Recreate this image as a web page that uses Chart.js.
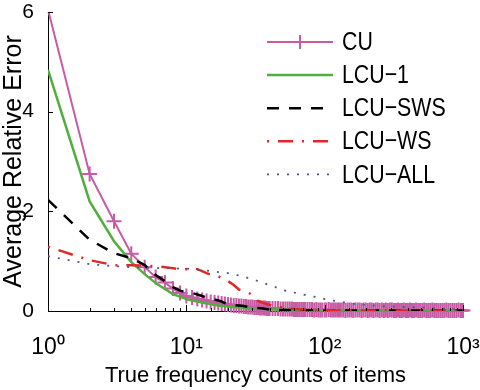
<!DOCTYPE html>
<html>
<head>
<meta charset="utf-8">
<script src="https://cdn.jsdelivr.net/npm/chart.js@4/dist/chart.umd.min.js"></script>
<style>
  body { margin: 0; background: #fff; }
</style>
</head>
<body>
<canvas id="err" width="480" height="390"></canvas>
<script>
// counts on the x axis (CU is plotted at every count, so its list is denser)
const cuCounts = [1,2,3,4,5,6,7,8,9,10, 11,12,13,14,15,16,17,18,19,20,
    21,22,23,24,25,26,27,28,29,30, 31,32,33,34,35,36,37,38,39,40,
    42,44,46,48,50,52,54,56,58,60,62,64,66,68,70,
    72,75,78,81,84,87,90,93,96,
    100,103,107,111,115,119,123,127,131,
    136,141,146,151,156,161,167,173,179,185,191,
    198,205,212,219,226,234,242,250,
    259,268,277,286,296,306,317,328,339,350,
    362,374,387,400,414,428,443,458,474,490,
    507,524,542,560,579,599,619,640,662,685,
    708,732,757,783,810,838,866,896,926,958,980,1000];
const cuError = [6.05,2.75,1.8,1.15,0.88,0.68,0.57,0.45,0.36,0.3,
    0.27,0.24,0.22,0.2,0.18,0.17,0.16,0.15,0.14,0.13,
    0.12,0.11,0.11,0.1,0.1,0.09,0.09,0.08,0.08,0.08,
    0.07,0.07,0.07,0.06,0.06,0.06,0.06,0.05,0.05,0.05,
    0.05,0.05,0.05,0.04,0.04,0.04,0.04,0.04,0.04,0.03,0.03,0.03,0.03,0.03,0.03,
    0.03,0.03,0.03,0.03,0.02,0.03,0.02,0.02,0.02,
    0.02,0.02,0.03,0.02,0.02,0.02,0.02,0.02,0.02,
    0.02,0.01,0.02,0.02,0.02,0.01,0.02,0.02,0.02,0.01,0.02,
    0.02,0.01,0.02,0.02,0.01,0.02,0.02,0.01,
    0.02,0.01,0.02,0.01,0.02,0.02,0.01,0.01,0.02,0.01,
    0.01,0.02,0.01,0.01,0.02,0.01,0.01,0.02,0.01,0.01,
    0.01,0.02,0.01,0.01,0.01,0.02,0.01,0.01,0.01,0.01,
    0.01,0.01,0.02,0.01,0.01,0.01,0.01,0.01,0.02,0.01,0.01,0.01];

const counts = [1,2,3,4,5,6,7,8,9,10, 11,12,13,14,15,16,17,18,19,20,
    22,24,26,28,30,33,36,40,45,50, 55,60,70,80,90,100,120,140,170,200,
    250,300,400,500,600,700,800,900,1000];
const lcu1Error = [4.84,2.2,1.4,0.98,0.74,0.56,0.44,0.34,0.29,0.24,
    0.21,0.19,0.17,0.15,0.14,0.12,0.11,0.1,0.1,0.09,
    0.08,0.07,0.07,0.06,0.05,0.05,0.04,0.04,0.03,0.03,
    0.02,0.02,0.02,0.01,0.01,0.01,0.01,0.01,0.01,0.01,
    0.01,0.01,0.01,0.01,0.01,0.01,0.01,0.01,0.01];
const swsError = [2.23,1.43,1.16,1.06,0.92,0.72,0.6,0.48,0.41,0.37,
    0.36,0.33,0.3,0.27,0.25,0.23,0.21,0.19,0.16,0.13,
    0.12,0.11,0.1,0.08,0.07,0.06,0.05,0.03,0.02,0.02,
    0.02,0.02,0.02,0.01,0.01,0.01,0.01,0.01,0.01,0.01,
    0.01,0.01,0.01,0.01,0.01,0.01,0.01,0.01,0.01];
const wsError = [1.29,1.02,0.92,0.92,0.91,0.9,0.88,0.86,0.83,0.84,
    0.86,0.84,0.8,0.76,0.73,0.72,0.7,0.66,0.63,0.6,
    0.52,0.43,0.4,0.37,0.32,0.2,0.16,0.12,0.09,0.07,
    0.05,0.04,0.03,0.02,0.02,0.02,0.01,0.01,0.01,0.01,
    0.01,0.01,0.01,0.01,0.01,0.01,0.01,0.01,0.01];
const allError = [1.1,0.94,0.9,0.88,0.87,0.86,0.86,0.86,0.85,0.85,
    0.84,0.83,0.82,0.81,0.8,0.79,0.78,0.77,0.76,0.76,
    0.74,0.71,0.69,0.66,0.64,0.6,0.56,0.52,0.47,0.42,
    0.39,0.37,0.33,0.3,0.27,0.24,0.2,0.17,0.14,0.12,
    0.1,0.09,0.08,0.07,0.06,0.05,0.04,0.03,0.02];

const seriesNames = ['CU', 'LCU\u22121', 'LCU\u2212SWS', 'LCU\u2212WS', 'LCU\u2212ALL'];
const yTicks = [0, 2, 4, 6];
const superDigits = {'0': '\u2070', '1': '\u00b9', '2': '\u00b2', '3': '\u00b3'};

const sans = "'Liberation Sans', Arial, sans-serif";

function pts(xs, ys) {
    return xs.map(function(x, i) { return {x: x, y: ys[i]}; });
}

// inward tick marks, like the original plot
const innerTicks = {
    id: 'innerTicks',
    afterDraw(chart) {
        const ctx = chart.ctx, a = chart.chartArea;
        const x = chart.scales.x, y = chart.scales.y;
        ctx.save();
        ctx.strokeStyle = '#000';
        ctx.lineWidth = 1;
        x.ticks.forEach(function(t) {
            const lg = Math.log10(t.value);
            const major = Math.abs(lg - Math.round(lg)) < 1e-9;
            const px = Math.round(x.getPixelForValue(t.value)) + 0.5;
            ctx.beginPath();
            ctx.moveTo(px, a.bottom);
            ctx.lineTo(px, a.bottom - (major ? 6 : 3));
            ctx.stroke();
        });
        yTicks.forEach(function(v) {
            const py = Math.round(y.getPixelForValue(v)) + 0.5;
            ctx.beginPath();
            ctx.moveTo(a.left, py);
            ctx.lineTo(a.left + 5, py);
            ctx.stroke();
        });
        ctx.restore();
    }
};

// legend drawn inside the axes, no frame; text squeezed like the narrow font of the original
const lineLegend = {
    id: 'lineLegend',
    afterDraw(chart) {
        const ctx = chart.ctx, a = chart.chartArea;
        const x0 = a.right - 196, x1 = a.right - 130, top = a.top + 30, step = 33.1;
        ctx.save();
        chart.data.datasets.forEach(function(ds, i) {
            const yy = top + i * step;
            ctx.strokeStyle = ds.borderColor;
            ctx.lineWidth = ds.borderWidth;
            ctx.setLineDash(ds.borderDash || []);
            ctx.beginPath();
            ctx.moveTo(x0, yy);
            ctx.lineTo(x1, yy);
            ctx.stroke();
            ctx.setLineDash([]);
            if (ds.pointStyle === 'cross') {
                Chart.helpers.drawPoint(ctx, {pointStyle: 'cross', radius: 7, borderWidth: 2}, (x0 + x1) / 2, yy);
            }
            ctx.save();
            ctx.translate(x1 + 9, yy + 1);
            ctx.scale(0.82, 1);
            ctx.fillStyle = '#000';
            ctx.font = '26px ' + sans;
            ctx.textBaseline = 'middle';
            ctx.fillText(ds.label, 0, 0);
            ctx.restore();
        });
        ctx.restore();
    }
};

const cuColor = '#c85ba6';

new Chart(document.getElementById('err'), {
    type: 'line',
    data: {
        datasets: [
            {label: seriesNames[0], data: pts(cuCounts, cuError), borderColor: cuColor, borderWidth: 2,
             pointStyle: 'cross', pointBorderColor: cuColor, pointBorderWidth: 2,
             pointRadius: function(c) { return (c.raw && c.raw.y > 6) ? 0 : 7.5; },
             clip: {left: 10, top: 0, right: 10, bottom: 10}, order: 5},
            {label: seriesNames[1], data: pts(counts, lcu1Error), borderColor: '#52ae3c', borderWidth: 2.5,
             pointRadius: 0, order: 4},
            {label: seriesNames[2], data: pts(counts, swsError), borderColor: '#000000', borderWidth: 2.5,
             borderDash: [12, 10], pointRadius: 0, order: 3},
            {label: seriesNames[3], data: pts(counts, wsError), borderColor: '#dd2a26', borderWidth: 2.5,
             borderDash: [2, 9, 15, 9], pointRadius: 0, order: 2},
            {label: seriesNames[4], data: pts(counts, allError), borderColor: '#4a56a0', borderWidth: 1.8,
             borderDash: [2, 8], pointRadius: 0, order: 1}
        ]
    },
    options: {
        responsive: false,
        animation: false,
        layout: {padding: {top: 12, right: 17, left: 0, bottom: 0}},
        elements: {line: {tension: 0, fill: false}},
        scales: {
            x: {
                type: 'logarithmic', min: 1, max: 1000,
                afterFit: function(s) { s.height = 79; s.paddingLeft = 0; s.paddingRight = 0; },
                grid: {display: false},
                border: {display: true, color: '#000', width: 1},
                ticks: {
                    autoSkip: false, maxRotation: 0, padding: 15, color: '#000',
                    font: {family: sans, size: 23},
                    callback: function(v) {
                        const lg = Math.log10(v);
                        if (Math.abs(lg - Math.round(lg)) > 1e-9) return '';
                        return '10' + superDigits[String(Math.round(lg))];
                    }
                },
                title: {display: true, text: 'True frequency counts of items', color: '#000',
                        font: {family: sans, size: 22}, padding: {top: 0, bottom: 1}}
            },
            y: {
                min: 0, max: 6,
                afterFit: function(s) { s.width = 48; s.paddingTop = 0; s.paddingBottom = 0; },
                afterBuildTicks: function(s) { s.ticks = yTicks.map(function(v) { return {value: v}; }); },
                grid: {display: false},
                border: {display: true, color: '#000', width: 1},
                ticks: {padding: 6, color: '#000', font: {family: sans, size: 21}},
                title: {display: true, text: 'Average Relative Error', color: '#000',
                        font: {family: sans, size: 25, lineHeight: 1}, padding: {top: 2, bottom: 0}}
            }
        },
        plugins: {legend: {display: false}, tooltip: {enabled: false}}
    },
    plugins: [innerTicks, lineLegend]
});
</script>
</body>
</html>
